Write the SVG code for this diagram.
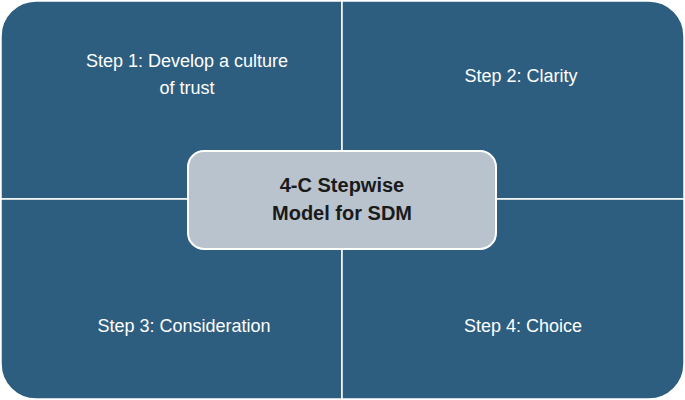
<svg xmlns="http://www.w3.org/2000/svg" width="685" height="400" viewBox="0 0 685 400">
<style>
.q{fill:#2d5e7f;stroke:#fff;stroke-width:1.5}
.t{font-family:"Liberation Sans",Arial,sans-serif;font-size:18px;fill:#fff;text-anchor:middle}
.c{font-family:"Liberation Sans",Arial,sans-serif;font-size:20px;font-weight:bold;fill:#1a1a1a;text-anchor:middle}
</style>
<rect width="685" height="400" fill="#fff"/>
<g id="step1"><path class="q" d="M1,199 V36 A35,35 0 0 1 36,1 H342 V199 Z"/><text class="t" x="187" y="67">Step 1: Develop a culture</text><text class="t" x="187" y="94">of trust</text></g>
<g id="step2"><path class="q" d="M342,1 H649 A35,35 0 0 1 684,36 V199 H342 Z"/><text class="t" x="521" y="82">Step 2: Clarity</text></g>
<g id="step3"><path class="q" d="M1,199 H342 V399 H36 A35,35 0 0 1 1,364 Z"/><text class="t" x="184" y="332">Step 3: Consideration</text></g>
<g id="step4"><path class="q" d="M342,199 H684 V364 A35,35 0 0 1 649,399 H342 Z"/><text class="t" x="523" y="332">Step 4: Choice</text></g>
<g id="connectors"></g>
<g id="center"><rect x="188" y="151" width="308" height="98" rx="16" fill="#b9c3cd" stroke="#fff" stroke-width="2"/><text class="c" x="342" y="192">4-C Stepwise</text><text class="c" x="342" y="220">Model for SDM</text></g>
</svg>
